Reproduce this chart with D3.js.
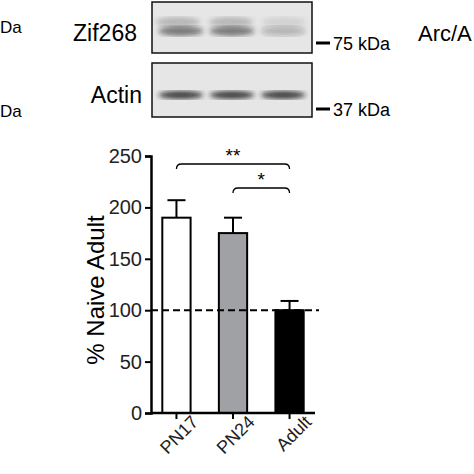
<!DOCTYPE html><html><head><script src="https://cdn.jsdelivr.net/npm/d3@7"></script>
<style>body{margin:0;background:#fff}text{font-family:Arial,"Liberation Sans",sans-serif}</style></head><body>
<svg id="c" width="474" height="474"></svg>
<script>
const categories=["PN17","PN24","Adult"];
const values=[190,175,100];
const errors=[17,15,9];
const fills=["#ffffff","#a0a1a4","#000000"];
const yTicks=[0,50,100,150,200,250];
const zifIntensity=[0.55,0.55,0.25];
const actinIntensity=[0.85,0.85,0.85];
const svg=d3.select("#c");
const x=d3.scaleBand().domain(categories).range([151,315]).paddingInner(0.5).paddingOuter(0.2);
const y=d3.scaleLinear().domain([0,250]).range([413,156]);
const defs=svg.append("defs");
defs.append("filter").attr("id","bl").append("feGaussianBlur").attr("stdDeviation",2.5);
function blot(y0,h,bandY,intens,bh){
  svg.append("rect").attr("x",152).attr("y",y0).attr("width",160).attr("height",h).attr("fill","#e6e6e6").attr("stroke","#111").attr("stroke-width",1.5);
  const bx=d3.scaleBand().domain(categories).range([154,310]).padding(0.05);
  svg.append("g").attr("filter","url(#bl)").selectAll("ellipse").data(categories).join("ellipse")
   .attr("cx",d=>bx(d)+bx.bandwidth()/2).attr("cy",bandY).attr("rx",bx.bandwidth()/2-2).attr("ry",bh)
   .attr("fill","#222").attr("opacity",(d,i)=>intens[i]);
}
blot(2,51,31,zifIntensity,5);
svg.append("g").attr("filter","url(#bl)").selectAll("ellipse").data(categories).join("ellipse")
 .attr("cx",(d,i)=>178+i*53).attr("cy",22).attr("rx",22).attr("ry",5).attr("fill","#555").attr("opacity",(d,i)=>zifIntensity[i]*0.6);
blot(63,54,95,actinIntensity,4);
svg.append("text").attr("x",137).attr("y",41).attr("text-anchor","end").attr("font-size",23).text("Zif268");
svg.append("text").attr("x",142).attr("y",103).attr("text-anchor","end").attr("font-size",23).text("Actin");
[[43,"75 kDa"],[109,"37 kDa"]].forEach(([yy,t])=>{
 svg.append("line").attr("x1",316).attr("x2",330).attr("y1",yy).attr("y2",yy).attr("stroke","#000").attr("stroke-width",3);
 svg.append("text").attr("x",333).attr("y",yy+7).attr("font-size",18).text(t);});
svg.append("text").attr("x",0).attr("y",33).attr("font-size",17).text("Da");
svg.append("text").attr("x",0).attr("y",117).attr("font-size",17).text("Da");
svg.append("text").attr("x",418).attr("y",41).attr("font-size",22).text("Arc/A");
svg.selectAll(".bar").data(categories).join("rect").attr("x",d=>x(d)).attr("y",(d,i)=>y(values[i]))
 .attr("width",x.bandwidth()).attr("height",(d,i)=>y(0)-y(values[i])).attr("fill",(d,i)=>fills[i]).attr("stroke","#000").attr("stroke-width",2);
categories.forEach((d,i)=>{const cx=x(d)+x.bandwidth()/2;
 svg.append("line").attr("x1",cx).attr("x2",cx).attr("y1",y(values[i])).attr("y2",y(values[i]+errors[i])).attr("stroke","#000").attr("stroke-width",2);
 svg.append("line").attr("x1",cx-9).attr("x2",cx+9).attr("y1",y(values[i]+errors[i])).attr("y2",y(values[i]+errors[i])).attr("stroke","#000").attr("stroke-width",2);});
svg.append("line").attr("x1",151).attr("x2",319).attr("y1",y(100)).attr("y2",y(100)).attr("stroke","#000").attr("stroke-width",2).attr("stroke-dasharray","7,4");
const ya=svg.append("g").attr("transform","translate(151,0)").call(d3.axisLeft(y).tickValues(yTicks).tickSize(6));
ya.selectAll("text").attr("font-size",20).attr("fill","#222");
const xa=svg.append("g").attr("transform","translate(0,413)").call(d3.axisBottom(x).tickSize(6));
xa.selectAll("text").attr("font-size",18).attr("fill","#222").attr("text-anchor","end").attr("dx","0.5em").attr("dy","0.8em").attr("transform","rotate(-45)");
[ya,xa].forEach(a=>{a.select(".domain").attr("stroke-width",2.5);a.selectAll(".tick line").attr("stroke-width",2);});
xa.select(".domain").attr("d","M151,0H315");
svg.append("text").attr("transform","translate(104,290) rotate(-90)").attr("text-anchor","middle").attr("font-size",24).text("% Naive Adult");
function br(a,b,yy,t){const x1=x(a)+x.bandwidth()/2,x2=x(b)+x.bandwidth()/2;
 svg.append("path").attr("d",`M${x1},${yy+5}Q${x1},${yy} ${x1+5},${yy}H${x2-5}Q${x2},${yy} ${x2},${yy+5}`).attr("fill","none").attr("stroke","#000").attr("stroke-width",1.3);
 svg.append("text").attr("x",(x1+x2)/2).attr("y",yy-2).attr("text-anchor","middle").attr("font-size",19).text(t);}
br("PN17","Adult",164,"**");br("PN24","Adult",188,"*");
</script></body></html>
